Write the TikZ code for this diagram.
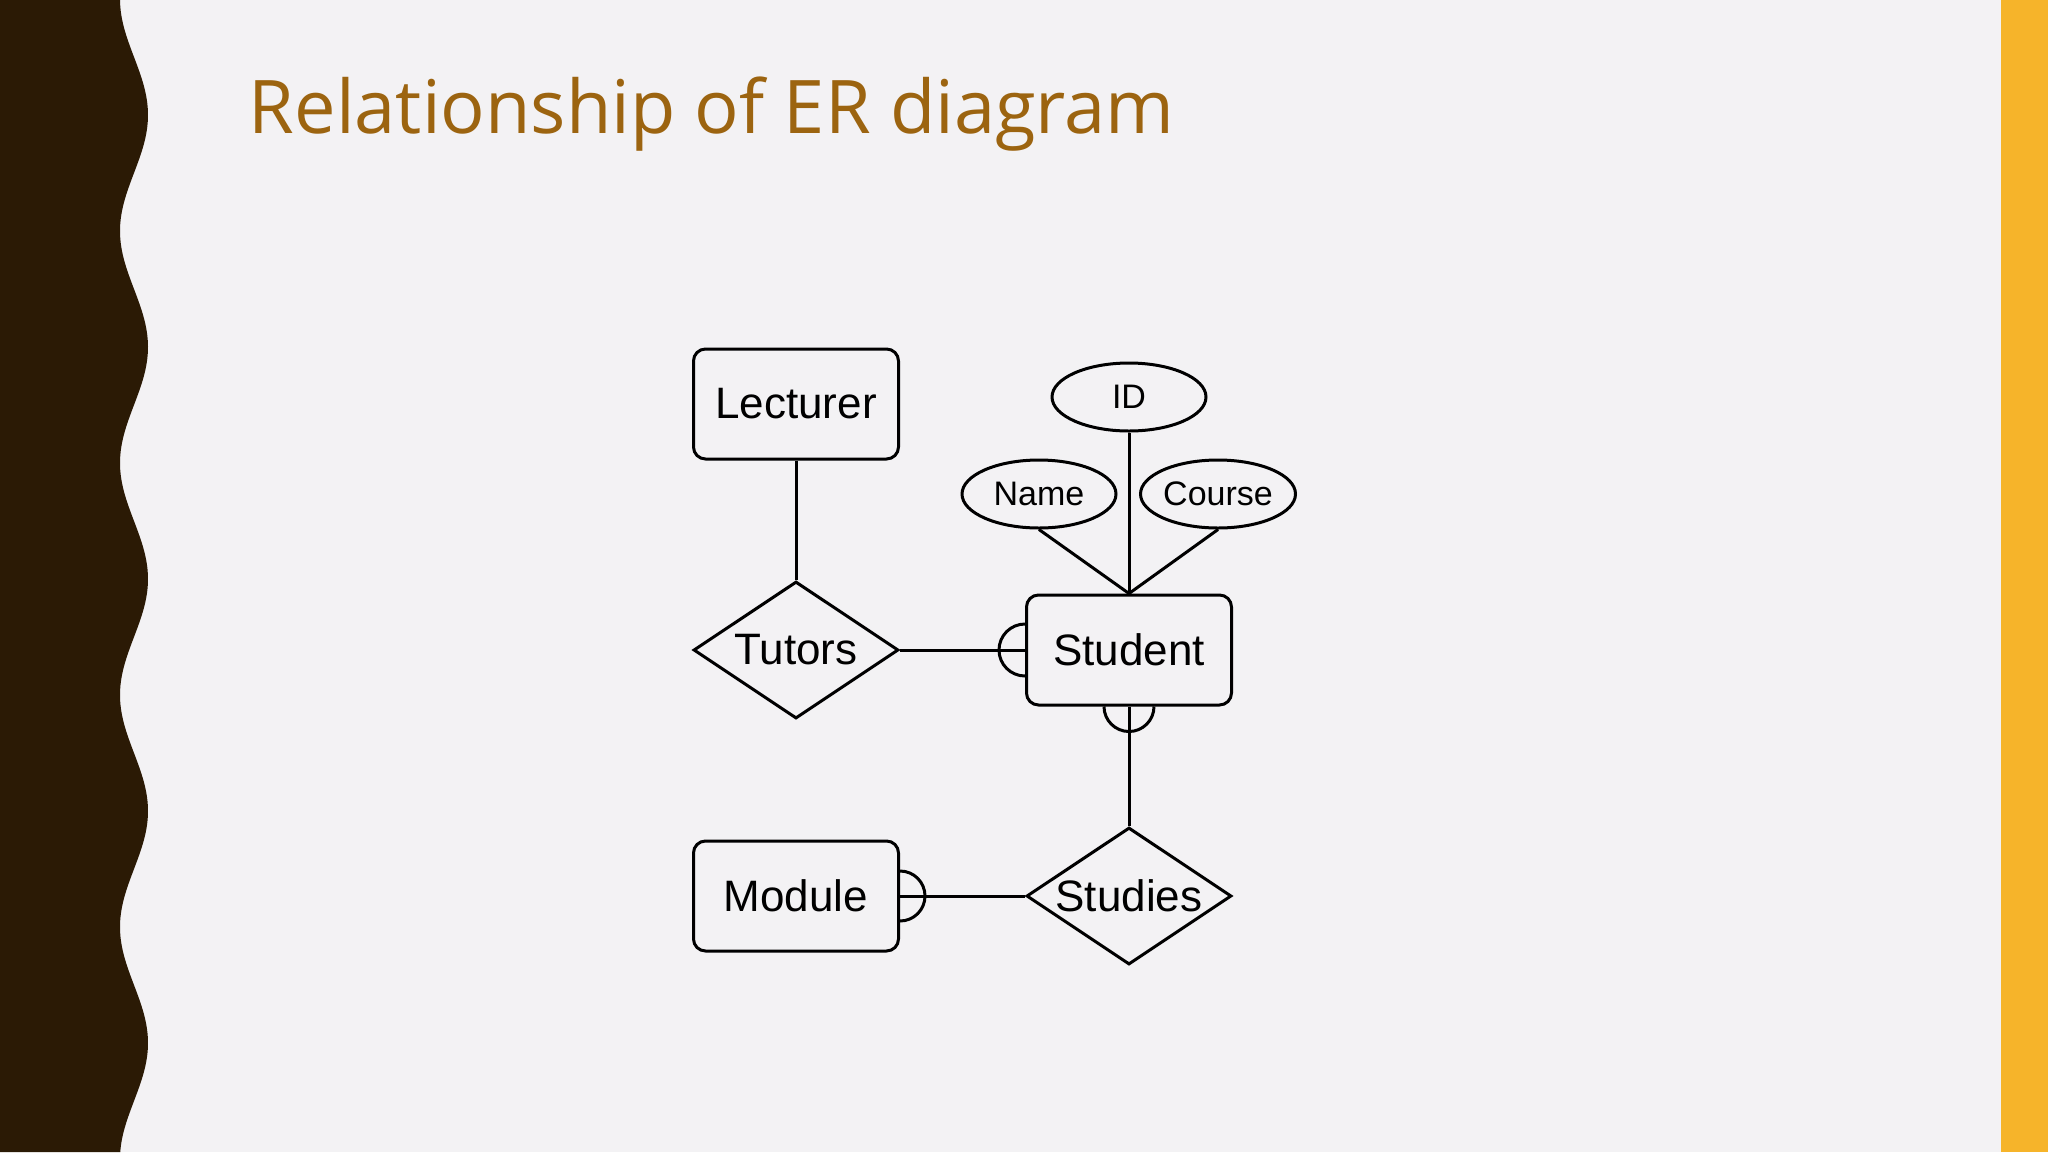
\documentclass[tikz,border=0pt]{standalone}
\usepackage{fontspec}
\setmainfont{Liberation Sans}
\newfontfamily\titlefont{Open Sans}
\usetikzlibrary{shapes.geometric}
\definecolor{bg}{HTML}{F3F2F4}
\definecolor{brownband}{HTML}{2B1A05}
\definecolor{orangebar}{HTML}{F6B42A}
\definecolor{titlec}{HTML}{9C6410}
\begin{document}
\begin{tikzpicture}[x=1pt,y=-1pt,line width=3pt,
  ent/.style={draw,rounded corners=12pt,minimum width=205pt,minimum height=110pt,inner sep=0pt,font=\fontsize{44}{44}\selectfont},
  rel/.style={draw,diamond,minimum width=205pt,minimum height=137pt,inner sep=0pt,aspect=1.5,font=\fontsize{44}{44}\selectfont},
  att/.style={draw,ellipse,minimum width=154pt,minimum height=68pt,inner sep=0pt,font=\fontsize{34}{34}\selectfont}]
\useasboundingbox (0,0) rectangle (2048,1152);
\fill[bg] (0,0) rectangle (2048,1152);
\fill[orangebar] (2001,0) rectangle (2048,1152);
\fill[brownband] (0,0) -- plot[domain=0:1152,samples=300,smooth] ({134+14*cos((\x-115)*1.5517)},\x) -- (0,1152) -- cycle;
\node[titlec,anchor=base west,font=\titlefont\fontsize{74}{74}\selectfont] (title) at (244,133) {Relationship of ER diagram};
\node[ent] (lec) at (796,404) {Lecturer};
\node[rel] (tut) at (796,650) {Tutors};
\node[ent] (stu) at (1129,650) {Student};
\node[att] (id) at (1129,397) {ID};
\node[att] (name) at (1039,494) {Name};
\node[att] (course) at (1218,494) {Course};
\node[ent] (mod) at (796,896) {Module};
\node[rel] (stud) at (1129,896) {Studies};
\draw (lec) -- (tut);
\draw (tut) -- (stu);
\draw (stu) -- (stud);
\draw (stud) -- (mod);
\draw (id) -- (stu.north);
\draw (name.south) -- (stu.north);
\draw (course.south) -- (stu.north);
\draw ([yshift=26pt]stu.west) arc[start angle=90,end angle=270,radius=26pt];
\draw ([xshift=-25pt]stu.south) arc[start angle=180,end angle=360,radius=25pt];
\draw ([yshift=25pt]mod.east) arc[start angle=90,end angle=-90,radius=25pt];
\end{tikzpicture}
\end{document}
